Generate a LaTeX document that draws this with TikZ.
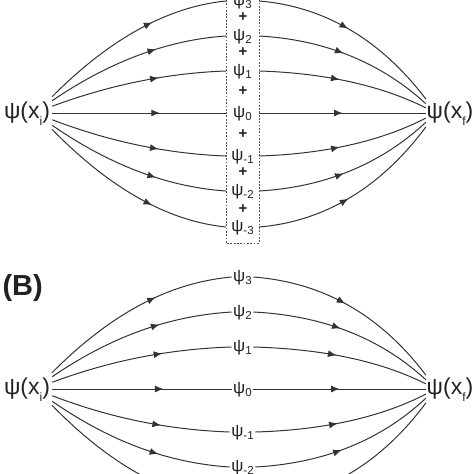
\documentclass[tikz,border=0pt]{standalone}
\usepackage{fontspec}
\setmainfont{Liberation Sans}
\usetikzlibrary{arrows.meta,decorations.markings}
\definecolor{ln}{HTML}{333333}
\definecolor{tx}{HTML}{222222}
\definecolor{bx}{HTML}{555555}
\tikzset{
  wire/.style={draw=ln, line width=1pt},
  tipL/.style={postaction={decorate},decoration={markings,mark=at position 0.62 with {\arrow{Latex[length=8.5pt,width=7pt]}}}},
  tipRc/.style={postaction={decorate},decoration={markings,mark=at position 0.47 with {\arrow{Latex[length=8.5pt,width=7pt]}}}},
  tipRs/.style={postaction={decorate},decoration={markings,mark=at position 0.50 with {\arrow{Latex[length=8.5pt,width=7pt]}}}},
  endnode/.style={text=tx, font=\fontsize{23}{23}\selectfont, inner sep=0pt},
  lab/.style={text=tx, font=\fontsize{17}{17}\selectfont, text height=9.4pt, text depth=0.6pt, inner ysep=1pt, inner xsep=1.5pt},
  plussign/.style={text=tx, font=\fontsize{15}{15}\selectfont\bfseries, inner sep=0pt},
  boxline/.style={draw=bx, line width=0.6pt, dash pattern=on 1.8pt off 1.5pt},
}
\newcommand\mypanel[2]{%
  \node[endnode, minimum width=50pt, text height=21.5pt, text depth=10.5pt] (#1L) at (27,113) {ψ(x\raisebox{-7pt}{\fontsize{12}{12}\selectfont i})};
  \node[endnode, minimum width=48pt, text height=19.5pt, text depth=8.5pt] (#1R) at (450,113) {ψ(x\raisebox{-7pt}{\fontsize{12}{12}\selectfont f})};
  \foreach \nm/\sb/\yv/\aL/\cLa/\cLb/\aR/\cRa/\cRb in {
    p3/3/1/33/38.5/6.8/150/6.9/45.1,
    p2/2/36/26/61.3/39.9/159/40.0/66.2,
    p1/1/71/15/84.8/73.1/168/73.2/87.4,
    m1/-1/156/345/141.8/153.8/192/153.8/139.1,
    m2/-2/191/334/165.3/187/201/186.9/160.4,
    m3/-3/227/327/188.7/221.1/210/221/182}{
    \node[lab,#2] (#1\nm) at (242.5,\yv) {ψ\raisebox{-3.5pt}{\fontsize{11.5}{11.5}\selectfont\sb}};
    \draw[wire,tipL] (#1L.\aL) .. controls (110,\cLa) and (168,\cLb) .. (#1\nm.west);
    \draw[wire,tipRc] (#1\nm.east) .. controls (330,\cRa) and (385,\cRb) .. (#1R.\aR);
  }
  \node[lab,#2] (#1z0) at (242.5,113) {ψ\raisebox{-3.5pt}{\fontsize{11.5}{11.5}\selectfont 0}};
  \draw[wire,tipL] (#1L.east) -- (#1z0.west);
  \draw[wire,tipRs] (#1z0.east) -- (#1R.west);
}
\begin{document}
\begin{tikzpicture}[x=1pt,y=-1pt]
  \useasboundingbox (0,0) rectangle (474,474);
  \clip (0,0) rectangle (474,474);
  % panel A
  \mypanel{t}{minimum width=33pt}
  \draw[boxline] (226,-10) rectangle (259,243);
  \foreach \k/\yy in {1/17,2/52,3/91,4/134,5/172,6/209}{
    \node[plussign] (plus\k) at (243,\yy) {+};
  }
  % panel B
  \node[font=\fontsize{29}{29}\selectfont\bfseries, text=tx, anchor=base east, inner sep=0pt] (lblB) at (43,295) {(B)};
  \begin{scope}[shift={(0,276)}]
    \mypanel{b}{}
  \end{scope}
\end{tikzpicture}
\end{document}
